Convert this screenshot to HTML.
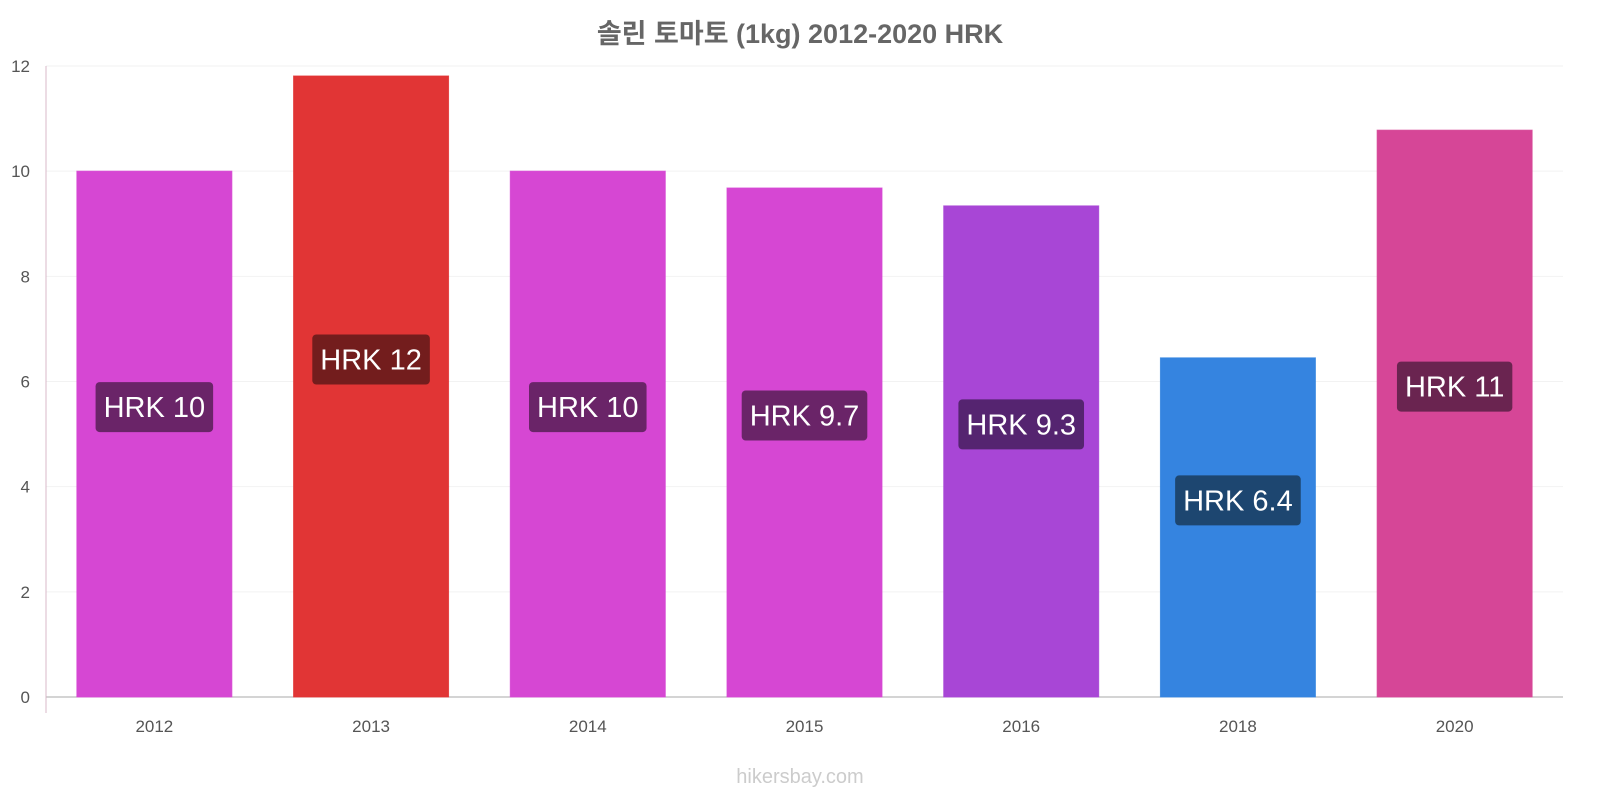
<!DOCTYPE html>
<html><head><meta charset="utf-8"><style>
body{margin:0;background:#fff;overflow:hidden;}
svg{display:block;font-family:"Liberation Sans","Noto Sans CJK KR",sans-serif;}
</style></head><body>
<svg id="chart" width="1600" height="800">
<text x="800" y="43" text-anchor="middle" font-size="27" font-weight="bold" fill="#666">솔린 토마토 (1kg) 2012-2020 HRK</text>
<g id="grid"></g><g id="bars"></g><g id="labels"></g>
<text x="800" y="783" text-anchor="middle" font-size="20" fill="#ccc">hikersbay.com</text>
</svg>
<script>
const categories=["2012","2013","2014","2015","2016","2018","2020"];
const values=[10.0,11.81,10.0,9.68,9.34,6.45,10.78];
const valueLabels=["HRK 10","HRK 12","HRK 10","HRK 9.7","HRK 9.3","HRK 6.4","HRK 11"];
const yTicks=[0,2,4,6,8,10,12];
const colors=["#d647d3","#e13535","#d647d3","#d647d3","#a846d6","#3584e0","#d64697"];
const labelBg=["#6a2468","#731d1d","#6a2468","#6a2468","#552470","#1d4670","#6a2450"];
const NS="http://www.w3.org/2000/svg";
const x0=46,x1=1563,yBase=697,yTop=66,yMax=12;
const band=(x1-x0)/categories.length, bw=155;
const y=v=>yBase-(v/yMax)*(yBase-yTop);
const xc=i=>x0+band*(i+0.5);
function mk(t,a,p){const e=document.createElementNS(NS,t);for(const k in a)e.setAttribute(k,a[k]);p.appendChild(e);return e;}
const g=document.getElementById('grid'),b=document.getElementById('bars'),l=document.getElementById('labels');
yTicks.forEach(t=>{
 const ln=mk('line',{x1:x0,x2:x1,y1:y(t),y2:y(t),stroke:t===0?'#aaa':'#f2f2f2','stroke-width':1},g);
 
 
 const tx=mk('text',{x:30,y:y(t)+6,'text-anchor':'end','font-size':17,fill:'#555'},g);tx.textContent=t;
 
 
});
const ax=mk('line',{x1:x0,x2:x0,y1:yTop,y2:713,stroke:'#d8b8c8'},g);


categories.forEach((c,i)=>{
 const cx=xc(i),top=y(values[i]);
 const r=mk('rect',{x:cx-bw/2,y:top,width:bw,height:yBase-top,fill:colors[i],stroke:colors[i],'stroke-opacity':0.8},b);
 
 
 const tx=mk('text',{x:cx,y:732,'text-anchor':'middle','font-size':17,fill:'#555'},l);tx.textContent=c;
 
 
 const ly=(top+yBase)/2-27;
 const bg=mk('rect',{x:cx-60,y:ly-25,width:120,height:50,rx:4,fill:labelBg[i]},l);
 
 
 const vt=mk('text',{x:cx,y:ly+10,'text-anchor':'middle','font-size':29,fill:'#fff'},l);vt.textContent=valueLabels[i];
 
 
 const w=vt.getComputedTextLength()+16;
 bg.setAttribute('x',cx-w/2);
 bg.setAttribute('width',w);
});
</script>
</body></html>
